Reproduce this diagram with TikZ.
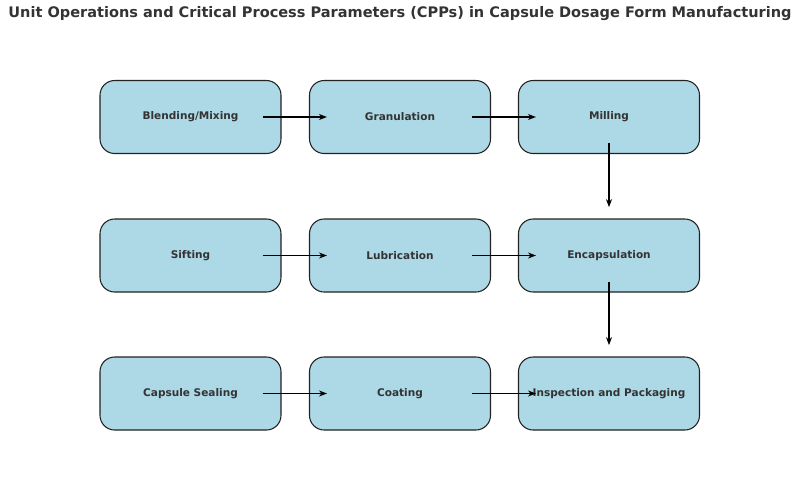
\documentclass[tikz,border=0pt]{standalone}
\usepackage{fontspec}
\setmainfont{DejaVu Sans}
\usepackage{xcolor}
\usetikzlibrary{arrows.meta}
\definecolor{boxblue}{RGB}{173,216,230}
\definecolor{textgray}{RGB}{51,51,51}
\definecolor{edgegray}{RGB}{34,34,34}

\begin{document}
\begin{tikzpicture}[x=0.75pt,y=-0.75pt,
    unitbox/.style={draw=edgegray,line width=0.8pt,fill=boxblue,rounded corners=11pt,
        minimum width=135.75pt,minimum height=54.75pt,inner sep=0pt,
        font=\fontsize{7.9}{9}\selectfont\bfseries,text=textgray},
    flowarrow/.style={-{Stealth[length=6pt,width=4.5pt]},line width=1.1pt,black},
    across/.style={flowarrow,shorten <=-14.25pt,shorten >=-13.5pt},
    downward/.style={flowarrow,shorten <=-8.25pt,shorten >=8.5pt}]
        \useasboundingbox (0,0) rectangle (800,494);
        % title
        \node[font=\fontsize{10.9}{13}\selectfont\bfseries,text=textgray] (title) at (400,14) {Unit Operations and Critical Process Parameters (CPPs) in Capsule Dosage Form Manufacturing};
        % first row
        \node[unitbox] (blend) at (190.5,117) {Blending/Mixing};
        \node[unitbox] (gran) at (400,117) {Granulation};
        \node[unitbox] (mill) at (609,117) {Milling};
        % second row
        \node[unitbox] (sift) at (190.5,255.5) {Sifting};
        \node[unitbox] (lube) at (400,255.5) {Lubrication};
        \node[unitbox] (encap) at (609,255.5) {Encapsulation};
        % third row
        \node[unitbox] (seal) at (190.5,393.5) {Capsule Sealing};
        \node[unitbox] (coat) at (400,393.5) {Coating};
        \node[unitbox] (inspect) at (609,393.5) {Inspection and Packaging};
        % arrows between steps
        \draw[across] (blend.east) -- (gran.west);
        \draw[across] (gran.east) -- (mill.west);
        \draw[across] (sift.east) -- (lube.west);
        \draw[across] (lube.east) -- (encap.west);
        \draw[across] (seal.east) -- (coat.west);
        \draw[across] (coat.east) -- (inspect.west);
        \draw[downward] (mill.south) -- (encap.north);
        \draw[downward] (encap.south) -- (inspect.north);
    \end{tikzpicture}
\end{document}
